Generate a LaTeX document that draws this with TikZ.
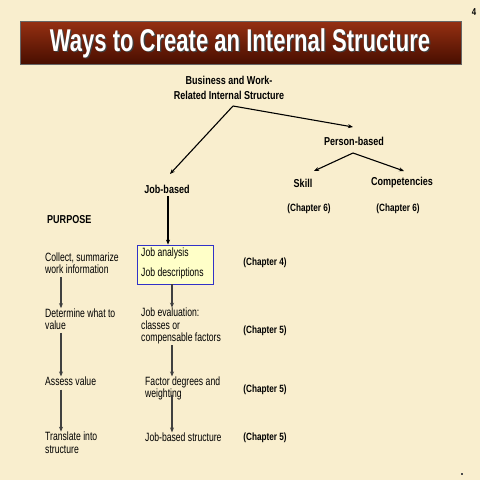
\documentclass[tikz,border=0pt]{standalone}
\usepackage{fontspec}
\usetikzlibrary{arrows.meta}
\newfontfamily\nfam[FakeStretch=0.72]{Liberation Sans}
\newfontfamily\bfam[FakeStretch=0.785]{Liberation Sans}
\newfontfamily\cfam[FakeStretch=0.78]{Liberation Sans}
\newfontfamily\tfam[FakeStretch=0.70]{Liberation Sans}
\definecolor{parch}{RGB}{249,238,206}
\definecolor{bantop}{RGB}{150,48,18}
\definecolor{banbot}{RGB}{72,14,0}
\definecolor{boxfill}{RGB}{255,255,200}
\definecolor{boxline}{RGB}{50,50,200}
\tikzset{
  reg/.style={inner sep=0pt, align=left, font=\nfam\fontsize{12}{12.5}\selectfont},
  bld/.style={inner sep=0pt, align=center, font=\bfam\bfseries\fontsize{11.5}{14.5}\selectfont},
  chap/.style={inner sep=0pt, font=\cfam\bfseries\fontsize{10.5}{12}\selectfont},
  arr/.style={line width=1.1pt, -{Stealth[length=5pt,width=4pt]}},
  garr/.style={line width=1.3pt, draw=black!75, -{Stealth[length=5pt,width=4pt]}},
  ttl/.style={inner sep=0pt, font=\tfam\bfseries\fontsize{31.5}{34}\selectfont}
}
\begin{document}
\begin{tikzpicture}[x=1pt,y=-1pt]
\fill[parch] (0,0) rectangle (480,480);
\useasboundingbox (0,0) rectangle (480,480);
\node[inner sep=0pt, font=\cfam\bfseries\fontsize{10}{12}\selectfont] (pg) at (474,12) {4};
\shade[top color=bantop, bottom color=banbot, draw=black!60] (20,21) rectangle (461,64);
\node[ttl, text=black!75] at (241.3,44.3) {Ways to Create an Internal Structure};
\node[ttl, text=white] (title) at (240,43) {Ways to Create an Internal Structure};
\node[bld] (root) at (229,88) {Business and Work-\\Related Internal Structure};
\coordinate (apex) at (233,106);
\node[bld] (person) at (354,141) {Person-based};
\coordinate (papex) at (353,153);
\node[bld] (job) at (167,189) {Job-based};
\node[bld] (skill) at (303,183) {Skill};
\node[bld] (comp) at (402,183) {Competencies};
\node[chap] (c6a) at (309,209) {(Chapter 6)};
\node[chap] (c6b) at (398,209) {(Chapter 6)};
\draw[arr] (apex) -- (170,174);
\draw[arr] (apex) -- (353,127);
\draw[arr] (papex) -- (314,171);
\draw[arr] (papex) -- (404,171);
\node[bld, anchor=west] (purpose) at (47,220) {PURPOSE};
\node[draw=boxline, line width=0.8pt, fill=boxfill, minimum width=76pt, minimum height=39pt, inner sep=0pt] (box) at (175,264.5) {};
\node[reg, anchor=west] (ja) at (141,253) {Job analysis};
\node[reg, anchor=west] (jd) at (141,273) {Job descriptions};
\coordinate (jx) at (168,0);
\draw[arr] (job.south -| jx) ++(0,3) -- (box.north -| jx);
\node[chap] (c4) at (265,263) {(Chapter 4)};
\node[reg, anchor=west] (collect) at (45,263) {Collect, summarize\\work information};
\node[reg, anchor=west] (determine) at (45,319) {Determine what to\\value};
\node[reg, anchor=west] (assess) at (45,381) {Assess value};
\node[reg, anchor=west] (translate) at (45,442.5) {Translate into\\structure};
\coordinate (lx) at (61,0);
\draw[garr] (collect.south -| lx) ++(0,3) -- (determine.north -| lx);
\draw[garr] (determine.south -| lx) ++(0,3) -- (assess.north -| lx);
\draw[garr] (assess.south -| lx) ++(0,4) -- (translate.north -| lx);
\node[reg, anchor=west] (jeval) at (141,326) {Job evaluation:\\classes or\\compensable factors};
\node[chap] (c5a) at (265,331) {(Chapter 5)};
\node[reg, anchor=west] (factor) at (145,388.5) {Factor degrees and\\weighting};
\node[chap] (c5b) at (265,390) {(Chapter 5)};
\node[reg, anchor=west] (jbs) at (145,437) {Job-based structure};
\node[chap] (c5c) at (265,438) {(Chapter 5)};
\coordinate (mx) at (172,0);
\draw[garr] (box.south -| mx) -- (jeval.north -| mx);
\draw[garr] (jeval.south -| mx) ++(0,1) -- (factor.north -| mx);
\draw[garr] (factor.south -| mx) ++(0,-6) -- (jbs.north -| mx);
\fill[black!70] (461,473) rectangle (463,475);
\end{tikzpicture}
\end{document}
